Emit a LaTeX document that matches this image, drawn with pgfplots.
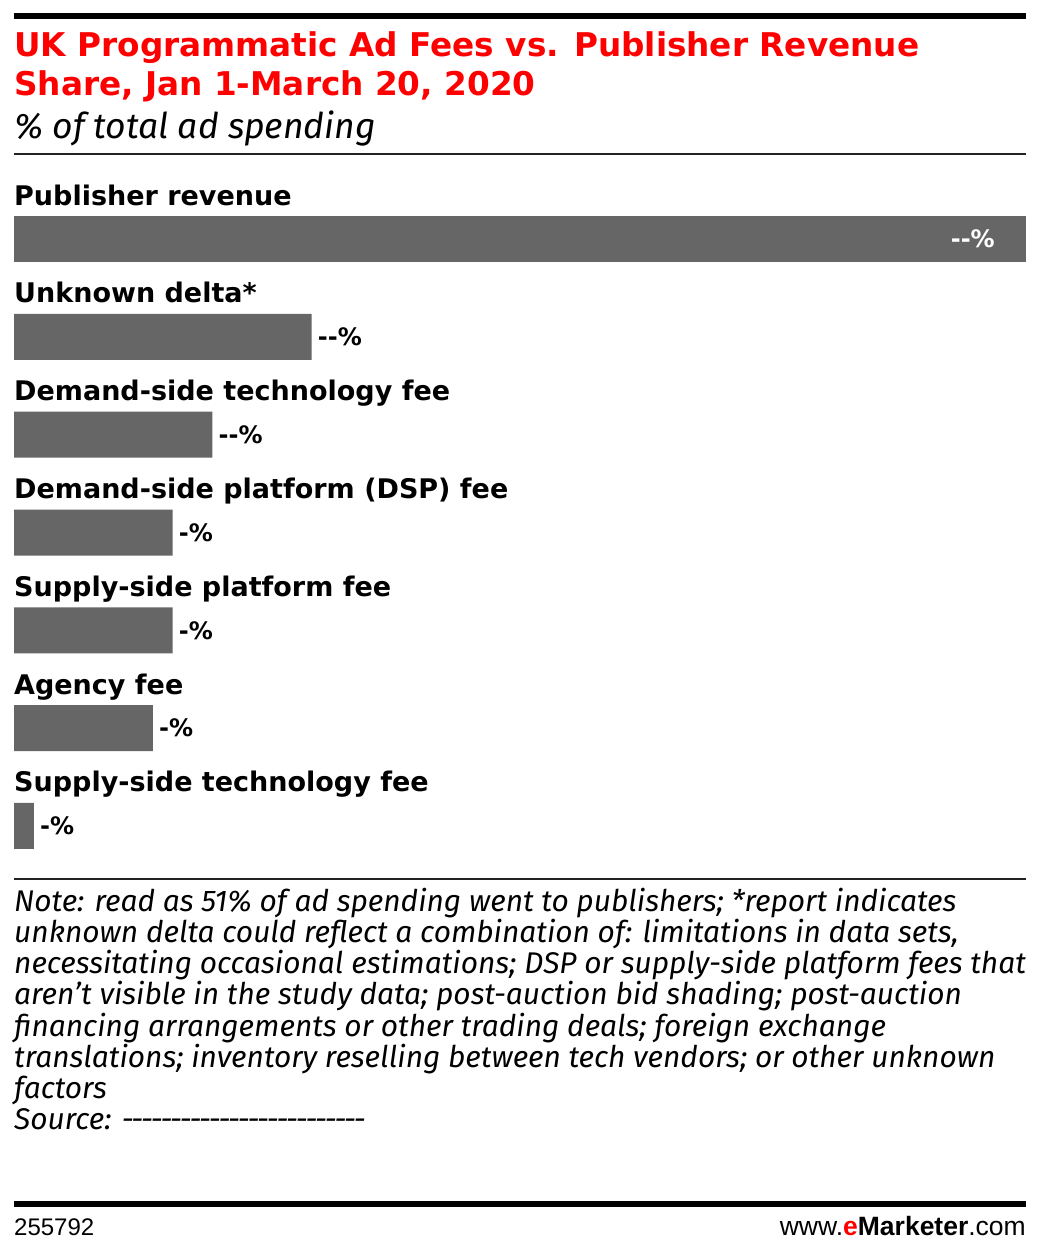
\documentclass[border=0pt]{standalone}
\usepackage{pgfplots}
\pgfplotsset{compat=1.18}
\usepackage{fontspec}
\setmainfont{Fira Sans}
\newfontfamily\heavyfont{DejaVu Sans}
\newfontfamily\footfont{Liberation Sans}
\definecolor{emred}{HTML}{FF0000}
\definecolor{bargray}{HTML}{666666}
\definecolor{rulegray}{HTML}{222222}
\newcommand\dsh{-\kern-2.2pt}
\begin{document}
\begin{tikzpicture}[x=1pt,y=1pt]
\useasboundingbox (0,0) rectangle (1039,-1253);
\fill[black] (14,-13) rectangle (1026,-19);
\node[anchor=base west, inner sep=0, text=emred, font=\fontsize{32.7}{39}\heavyfont\bfseries] at (14,-56) {UK Programmatic Ad Fees vs. Publisher Revenue};
\node[anchor=base west, inner sep=0, text=emred, font=\fontsize{32.7}{39}\heavyfont\bfseries] at (14,-95) {Share, Jan 1-March 20, 2020};
\node[anchor=base west, inner sep=0, font=\fontsize{35.5}{39}\selectfont\itshape] at (14,-138) {\% of total ad spending};
\draw[rulegray, line width=2pt] (14,-154) -- (1026,-154);
\begin{axis}[
  at={(14pt,-190.1pt)}, anchor=north west,
  scale only axis, width=1012pt, height=684.8pt,
  xmin=0, xmax=51, ymin=-0.5, ymax=6.5, y dir=reverse,
  xbar, bar width=46pt, bar shift=0pt,
  axis line style={draw=none}, major tick length=0pt,
  xtick=\empty, ytick={0,1,2,3,4,5,6},
  yticklabels={Publisher revenue, Unknown delta*, Demand-side technology fee, Demand-side platform (DSP) fee, Supply-side platform fee, Agency fee, Supply-side technology fee},
  yticklabel style={anchor=base west, inner sep=0pt, yshift=34pt, font=\fontsize{27}{32}\heavyfont\bfseries},
  point meta=explicit symbolic,
  clip=false,
]
\addplot[fill=bargray, draw=none, nodes near coords,
  every node near coord/.append style={anchor=east, text=white, xshift=-31pt, inner sep=0pt, font=\fontsize{24}{30}\heavyfont\bfseries}]
  coordinates {(51,0) [-{}-\%]};
\addplot[fill=bargray, draw=none, nodes near coords,
  every node near coord/.append style={anchor=west, text=black, xshift=6pt, inner sep=0pt, font=\fontsize{24}{30}\heavyfont\bfseries}]
  coordinates {(15,1) [-{}-\%] (10,2) [-{}-\%] (8,3) [-\%] (8,4) [-\%] (7,5) [-\%] (1,6) [-\%]};
\end{axis}
\draw[rulegray, line width=2pt] (14,-879) -- (1026,-879);
\begin{scope}[every node/.style={anchor=base west, inner sep=0, font=\fontsize{29.9}{31}\selectfont\itshape}]
\node at (14,-911) {Note: read as 51\% of ad spending went to publishers; *report indicates};
\node at (14,-942) {unknown delta could reflect a combination of: limitations in data sets,};
\node at (14,-973) {necessitating occasional estimations; DSP or supply-side platform fees that};
\node at (14,-1004) {aren't visible in the study data; post-auction bid shading; post-auction};
\node at (14,-1036) {financing arrangements or other trading deals; foreign exchange};
\node at (14,-1067) {translations; inventory reselling between tech vendors; or other unknown};
\node at (14,-1098) {factors};
\node at (14,-1129) {Source: \dsh\dsh\dsh\dsh\dsh\dsh\dsh\dsh\dsh\dsh\dsh\dsh\dsh\dsh\dsh\dsh\dsh\dsh\dsh\dsh\dsh\dsh\dsh\dsh-};
\end{scope}
\fill[black] (14,-1201) rectangle (1026,-1207);
\node[anchor=base west, inner sep=0, font=\fontsize{24}{28}\footfont] at (14,-1235) {255792};
\node[anchor=base east, inner sep=0, font=\fontsize{26.5}{28}\footfont] at (1026,-1235) {www.{\bfseries\textcolor{emred}{e}Marketer}.com};
\end{tikzpicture}
\end{document}
